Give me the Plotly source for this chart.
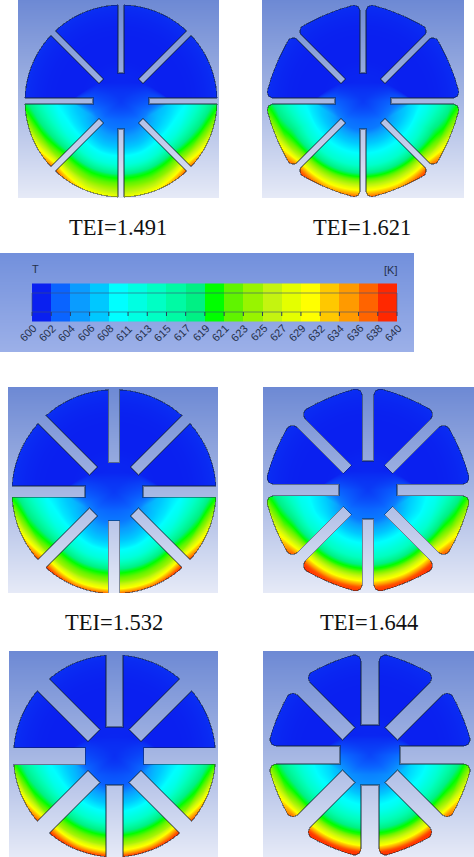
import numpy as np
import plotly.graph_objects as go

W, H = 474, 857

# Legend
legend_labels = ["600","602","604","606","608","611","613","615","617","619","621",
                 "623","625","627","629","632","634","636","638","640"]
legend_colors = ["#0a20f0","#0a64ff","#0a9cff","#00c8ff","#00ffff","#00ffe2","#00ffc4","#00faa4",
                 "#00f084","#00ff00","#60f400","#98f400","#c4f410","#e4ff00","#ffff00","#ffc800",
                 "#ff9a00","#ff6400","#ff2800"]
labels_tei = ["TEI=1.491", "TEI=1.621", "TEI=1.532", "TEI=1.644"]
label_xy = [(117.5, 227), (362, 227), (114, 622), (369, 622.5)]

# Temperature read-offs: rows = angle below horizontal, columns = fraction of radius
rho_stops = [0, .30, .42, .54, .66, .78, .88, .95, 1.0, 1.06]
phi_stops = [0, 22.5, 45, 67.5, 90]
upper_T = [600.4, 600.2, 600.0, 600.0, 600.0, 600.1, 600.3, 600.5, 600.7, 600.8]

T1 = [[602,605,606.5,608,609,612,615,617,618,619],
      [602,605,607,608.5,611,616,620,624,628,630],
      [602,604,606.5,609,613,619.5,625,632,638,640],
      [602,604,606,608.5,612,619,623,627,631,634],
      [602,604,606,608.5,612,619,623,626,629,632]]
T2 = [[602,606,607,608.5,610,613,616,618,619,620],
      [602,605,607,609,613,618,621,626,630,632],
      [602,604,607,609.5,613,620,628,636,640,640],
      [602,604,607,609.5,613,620,627,633,638,640],
      [602,604,607,609.5,613,620,627,633,638,640]]
T3 = [[602,605,606.5,608,609,612,615,617,618,619],
      [602,605,607,608.5,611,616,620,625,630,632],
      [602,604,606.5,609,613,619.5,625,634,640,640],
      [602,604,606,608.5,612,619,624,630,637,640],
      [602,604,606,608.5,612,619,624,630,637,640]]
T4 = [[602,606,607.5,609,610,613,616,618,620,622],
      [602,605,607.5,609,612,618,622,627,632,634],
      [602,604,607,610,614,621,631,639,640,640],
      [602,604,607,610,614,621,630,638,640,640],
      [602,604,607,610,614,621,630,638,640,640]]
T5 = [[601,604,606.5,608,609,612,615,617,618,620],
      [601,604,606.5,608.5,611,616,620,625,631,633],
      [601,603,606,609,613,619.5,625,635,640,640],
      [601,603,606,609,613,619.5,625,632,639,640],
      [601,603,606,609,613,619.5,625,632,639,640]]
T6 = [[603,607,608,609,611,614,617,619,621,623],
      [603,606,608,609.5,613,618,622,628,633,635],
      [603,605,608,610.5,615,621,630,639,640,640],
      [603,605,608,610.5,615,621,630,639,640,640],
      [603,605,608,610.5,615,621,630,639,640,640]]

# Panels: background box, disc centre, radius, slot width, hub radius, corner radius
panels = [
    dict(box=(18, 219, 0, 198),   c=(121, 101),   R=96,  w=6,  rin=28, rc=0,  T=T1),
    dict(box=(262, 464, 0, 198),  c=(363, 101),   R=97,  w=6,  rin=28, rc=8, T=T2),
    dict(box=(8, 218, 387, 593),  c=(114, 491.7), R=102, w=11.5, rin=29, rc=0, T=T3),
    dict(box=(263, 474, 387, 593),c=(368, 490),   R=103, w=11.5, rin=29, rc=9, T=T4),
    dict(box=(9, 218, 651, 857),  c=(114.5, 756), R=101, w=17, rin=29, rc=0,  T=T5),
    dict(box=(263, 474, 651, 857),c=(370, 755),   R=103, w=18, rin=30, rc=9, T=T6),
]

n = len(legend_colors)
temp_scale = [[(i + .5) / n if 0 < i < n - 1 else float(i > 0), c] for i, c in enumerate(legend_colors)]
bg_scale = [[0, "#6d89d4"], [.5, "#a5b6e3"], [1, "#e6eaf7"]]

def field(rho, phi, table):
    stack = np.stack([np.interp(rho, rho_stops, r) for r in table])
    idx = np.clip(np.searchsorted(phi_stops, phi, side="right") - 1, 0, len(phi_stops) - 2)
    f = (phi - np.array(phi_stops)[idx]) / 22.5
    ii, jj = np.indices(rho.shape)
    return stack[idx, ii, jj] * (1 - f) + stack[idx + 1, ii, jj] * f

fig = go.Figure()
for p in panels:
    x0, x1, y0, y1 = p["box"]
    xs = np.arange(x0, x1) + .5
    ys = np.arange(y0, y1) + .5
    X, Y = np.meshgrid(xs - p["c"][0], ys - p["c"][1])
    GY = (np.meshgrid(xs, ys)[1] - y0) / (y1 - y0)
    fig.add_trace(go.Heatmap(x0=x0 + .5, dx=1, y0=y0 + .5, dy=1, z=GY,
                             zmin=0, zmax=1, colorscale=bg_scale, showscale=False, hoverinfo="skip"))
    r = np.hypot(X, Y)
    d_slot = np.full(r.shape, -1e9)
    for k in range(8):
        a = k * np.pi / 4
        u = X * np.cos(a) + Y * np.sin(a)
        v = -X * np.sin(a) + Y * np.cos(a)
        d_slot = np.maximum(d_slot, -np.maximum(p["rin"] - u, np.abs(v) - p["w"] / 2))
    rc = p["rc"]
    if rc:
        # flatter outer edge: the petal's middle sits a little inside its corners
        ang = np.degrees(np.arctan2(Y, X)) % 45
        off = (ang - 22.5) / 22.5
        a_ = r - (p["R"] - 3 + 4 * off ** 2)
    else:
        a_ = r - p["R"]
    b_ = d_slot
    d = (np.minimum(np.maximum(a_ + rc, b_ + rc), 0)
         + np.hypot(np.maximum(a_ + rc, 0), np.maximum(b_ + rc, 0)) - rc)
    rho = r / p["R"]
    phi = np.degrees(np.arctan2(np.abs(Y), np.abs(X)))
    low = field(rho, phi, p["T"])
    up = np.interp(rho, rho_stops, upper_T)
    rin = p["rin"]
    s = np.maximum(1.3 * rin * np.clip((1.8 * rin - r) / (.8 * rin), 0, 1), 1)
    w = np.clip(Y / s + .5, 0, 1)
    T = up + (low - up) * w
    T[d > 0] = np.nan
    fig.add_trace(go.Heatmap(x0=x0 + .5, dx=1, y0=y0 + .5, dy=1, z=T, zmin=600, zmax=640,
                             colorscale=temp_scale, showscale=False, hoverinfo="skip"))
    edge = np.where(np.abs(d) < .6, 1.0, np.nan)
    fig.add_trace(go.Heatmap(x0=x0 + .5, dx=1, y0=y0 + .5, dy=1, z=edge, zmin=0, zmax=1, opacity=.45,
                             colorscale=[[0, "#10202c"], [1, "#10202c"]], showscale=False, hoverinfo="skip"))

# Legend panel
ly = np.arange(253, 352) + .5
fig.add_trace(go.Heatmap(x0=.5, dx=1, y0=253.5, dy=1, z=np.tile((ly - 253) / 99, (414, 1)).T,
                         zmin=0, zmax=1, colorscale=[[0, "#7290dc"], [1, "#9cb0e8"]],
                         showscale=False, hoverinfo="skip"))
bar_x0, bar_x1 = 32, 397
step = (bar_x1 - bar_x0) / n
fig.add_trace(go.Heatmap(x0=bar_x0 + step / 2, dx=step, y=[293, 312], z=[list(range(n))] * 2,
                         zmin=-.5, zmax=n - .5, zsmooth=False,
                         colorscale=[s for i, c in enumerate(legend_colors)
                                     for s in ([i / n, c], [(i + 1) / n, c])],
                         showscale=False, hoverinfo="skip"))
shapes = [dict(type="rect", x0=bar_x0, x1=bar_x1, y0=293, y1=312, line=dict(color="#3a4f78", width=.6))]
anns = []
for i, lab in enumerate(legend_labels):
    x = bar_x0 + i * step
    shapes.append(dict(type="line", x0=x, x1=x, y0=312, y1=316, line=dict(color="#2a3c60", width=1)))
    anns.append(dict(x=x - 4, y=333, text=lab, showarrow=False, textangle=-45, xref="x", yref="y",
                     font=dict(family="Liberation Sans", size=11, color="#25304a")))
anns.append(dict(x=35, y=269, text="T", showarrow=False, font=dict(family="Liberation Sans", size=11, color="#25304a")))
anns.append(dict(x=390, y=269.5, text="[K]", showarrow=False, font=dict(family="Liberation Sans", size=11, color="#25304a")))
for t, (x, y) in zip(labels_tei, label_xy):
    anns.append(dict(x=x, y=y, text=t, showarrow=False,
                     font=dict(family="Liberation Serif", size=22.5, color="#111111")))

fig.update_layout(width=W, height=H, margin=dict(l=0, r=0, t=0, b=0), paper_bgcolor="white",
                  plot_bgcolor="white", showlegend=False, shapes=shapes, annotations=anns,
                  xaxis=dict(range=[0, W], visible=False, fixedrange=True),
                  yaxis=dict(range=[H, 0], visible=False, fixedrange=True))
fig.write_html("out.html", config=dict(displayModeBar=False),
               post_script="document.body.style.margin='0';document.documentElement.style.overflow='hidden';")
